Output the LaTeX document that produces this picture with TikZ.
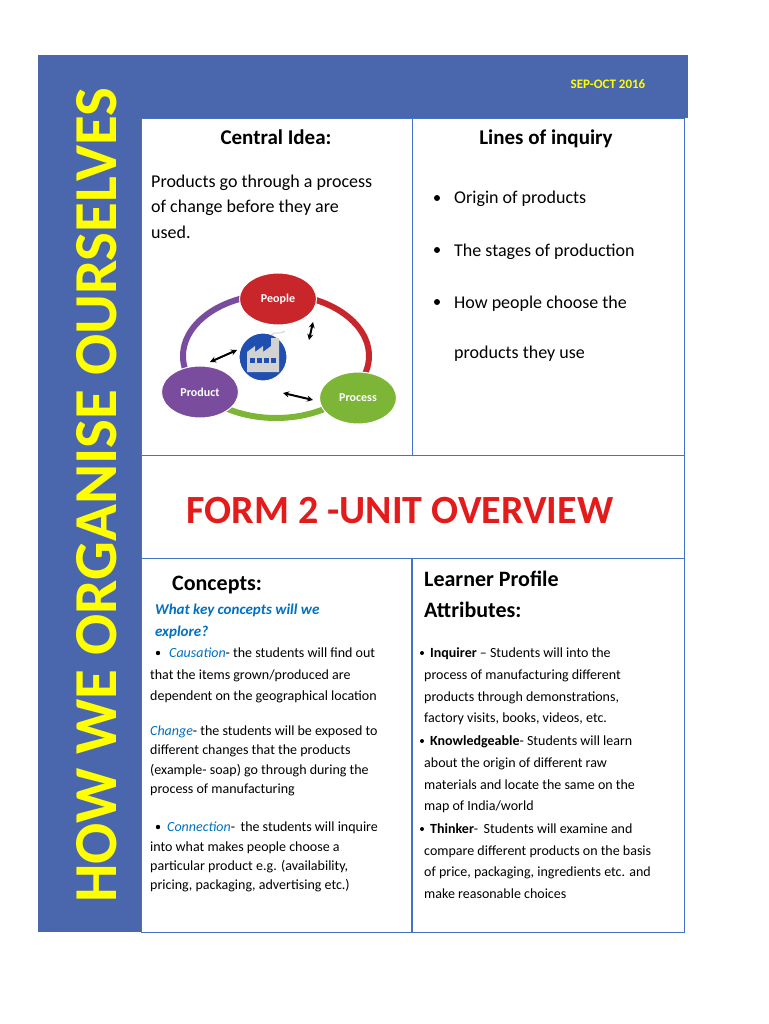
\documentclass[tikz,border=0pt]{standalone}
\usepackage{fontspec}
\setmainfont{Carlito}
\usetikzlibrary{arrows.meta,shapes.geometric}
\definecolor{bandblue}{HTML}{4A66AC}
\definecolor{lineblue}{HTML}{4472C4}
\definecolor{txtblue}{HTML}{0070C0}
\definecolor{ylw}{HTML}{FFFF00}
\definecolor{ttlred}{HTML}{E31B1B}
\definecolor{pplred}{HTML}{C8262B}
\definecolor{prcgreen}{HTML}{7DB636}
\definecolor{prdpurple}{HTML}{7A4C9E}
\definecolor{fctblue}{HTML}{1F4FB0}
\tikzset{
  cell/.style={draw=lineblue,line width=0.8pt},
  ln/.style={anchor=base west,inner sep=0pt,font=\fontsize{14}{16}\selectfont},
  lnb/.style={anchor=base west,inner sep=0pt,font=\fontsize{18}{20}\selectfont},
  hd/.style={anchor=base,inner sep=0pt,font=\fontsize{22}{24}\selectfont\bfseries},
  ball/.style={ellipse,minimum width=77pt,minimum height=52pt,inner sep=0pt,text=white,font=\fontsize{12}{12}\selectfont\bfseries,draw=white,line width=1pt},
  dbl/.style={{Stealth[length=6pt,width=6pt]}-{Stealth[length=6pt,width=6pt]},line width=2pt},
}
\begin{document}
\begin{tikzpicture}[x=1pt,y=-1pt]
\useasboundingbox (0,0) rectangle (768,1024);
% bands
\fill[bandblue] (38,55) rectangle (141,932);
\fill[bandblue] (141,55) rectangle (688,118);
\node[rotate=90,text=ylw,font=\fontsize{61}{61}\selectfont\bfseries,inner sep=0pt] (vert) at (97,495) {HOW WE ORGANISE OURSELVES};
\node[text=ylw,font=\fontsize{13}{13}\selectfont\bfseries,inner sep=0pt] (date) at (608,84) {SEP-OCT 2016};
% cells
\draw[cell] (141,118) rectangle (412,455);
\draw[cell] (412,118) rectangle (684,455);
\draw[cell] (141,455) rectangle (684,558);
\draw[cell] (141,558) rectangle (684,932);
\draw[lineblue,line width=2pt] (412,558) -- (412,932);
% top left
\node[hd,font=\fontsize{21}{24}\selectfont\bfseries] (ci) at (276,145) {Central Idea:};
\node[lnb] (p1) at (151,188) {Products go through a process};
\node[lnb] (p2) at (151,213) {of change before they are};
\node[lnb] (p3) at (151,238) {used.};
% diagram
\draw[pplred,line width=6pt] (276,356) ++(-90:93 and 62) arc[start angle=-90,end angle=30,x radius=93,y radius=62];
\draw[prcgreen,line width=6pt] (276,356) ++(30:93 and 62) arc[start angle=30,end angle=150,x radius=93,y radius=62];
\draw[prdpurple,line width=6pt] (276,356) ++(150:93 and 62) arc[start angle=150,end angle=270,x radius=93,y radius=62];
\node[ball,fill=pplred] (people) at (278,299) {People};
\node[ball,fill=prdpurple] (product) at (200,392) {Product};
\node[ball,fill=prcgreen] (process) at (358,398) {Process};
\node[circle,fill=fctblue,draw=white,line width=1pt,minimum size=48pt,inner sep=0pt] (fact) at (263,357) {};
\fill[gray!35] (247,372) -- (247,352) -- (255,346) -- (255,352) -- (263,346) -- (263,352) -- (271,346) -- (271,338) -- (279,338) -- (279,372) -- cycle;
\foreach \i in {0,1,2,3} \fill[fctblue] (250+\i*7,358) rectangle (255+\i*7,363);
\draw[gray!35,line width=1pt] (271,335) .. controls (275,331) and (279,335) .. (285,331);
\coordinate (a1) at (313,322); \coordinate (a2) at (309,340);
\coordinate (b1) at (237,350); \coordinate (b2) at (210,362);
\coordinate (d1) at (283,393); \coordinate (d2) at (313,400);
\draw[dbl] (a1) -- (a2);
\draw[dbl] (b1) -- (b2);
\draw[dbl] (d1) -- (d2);
% top right
\node[hd,font=\fontsize{21}{24}\selectfont\bfseries] (loi) at (546,145) {Lines of inquiry};
\foreach \yy/\t in {204/Origin of products,256/The stages of production,308/How people choose the}{
  \fill (437,\yy-6) circle (3pt);
  \node[lnb] at (454,\yy) {\t};}
\node[lnb] (l4) at (454,358) {products they use};
% title
\node[text=ttlred,font=\fontsize{40}{40}\selectfont\bfseries,inner sep=0pt] (title) at (400,511) {FORM 2 -UNIT OVERVIEW};
% concepts
\node[hd,anchor=base west] (conc) at (172,590) {Concepts:};
\node[ln,font=\fontsize{15}{16}\selectfont\bfseries\itshape,text=txtblue] (q1) at (155,614) {What key concepts will we};
\node[ln,font=\fontsize{15}{16}\selectfont\bfseries\itshape,text=txtblue] (q2) at (155,636) {explore?};
\fill (158,653) circle (2.2pt);
\node[ln] (c1) at (169,657) {\textcolor{txtblue}{\itshape Causation}- the students will find out};
\node[ln] (c2) at (150,679) {that the items grown/produced are};
\node[ln] (c3) at (150,700) {dependent on the geographical location};
\node[ln] (c4) at (150,735) {\textcolor{txtblue}{\itshape Change}- the students will be exposed to};
\node[ln] (c5) at (150,754) {different changes that the products};
\node[ln] (c6) at (150,774) {(example- soap) go through during the};
\node[ln] (c7) at (150,793) {process of manufacturing};
\fill (158,827) circle (2.2pt);
\node[ln] (c8) at (167,831) {\textcolor{txtblue}{\itshape Connection}-\, the students will inquire};
\node[ln] (c9) at (150,851) {into what makes people choose a};
\node[ln] (c10) at (150,870) {particular product e.g. (availability,};
\node[ln] (c11) at (150,889) {pricing, packaging, advertising etc.)};
% learner profile
\node[hd,anchor=base west] (lp1) at (424,586) {Learner Profile};
\node[hd,anchor=base west] (lp2) at (424,617) {Attributes:};
\fill (422,653) circle (2pt);
\node[ln] (r1) at (430,657) {\textbf{Inquirer} -- Students will into the};
\node[ln] (r2) at (424,679) {process of manufacturing different};
\node[ln] (r3) at (424,701) {products through demonstrations,};
\node[ln] (r4) at (424,722) {factory visits, books, videos, etc.};
\fill (422,741) circle (2pt);
\node[ln] (r5) at (430,745) {\textbf{Knowledgeable}- Students will learn};
\node[ln] (r6) at (424,767) {about the origin of different raw};
\node[ln] (r7) at (424,789) {materials and locate the same on the};
\node[ln] (r8) at (424,810) {map of India/world};
\fill (422,829) circle (2pt);
\node[ln] (r9) at (430,833) {\textbf{Thinker}-\, Students will examine and};
\node[ln] (r10) at (424,855) {compare different products on the basis};
\node[ln] (r11) at (424,876) {of price, packaging, ingredients etc. and};
\node[ln] (r12) at (424,898) {make reasonable choices};
\end{tikzpicture}
\end{document}
